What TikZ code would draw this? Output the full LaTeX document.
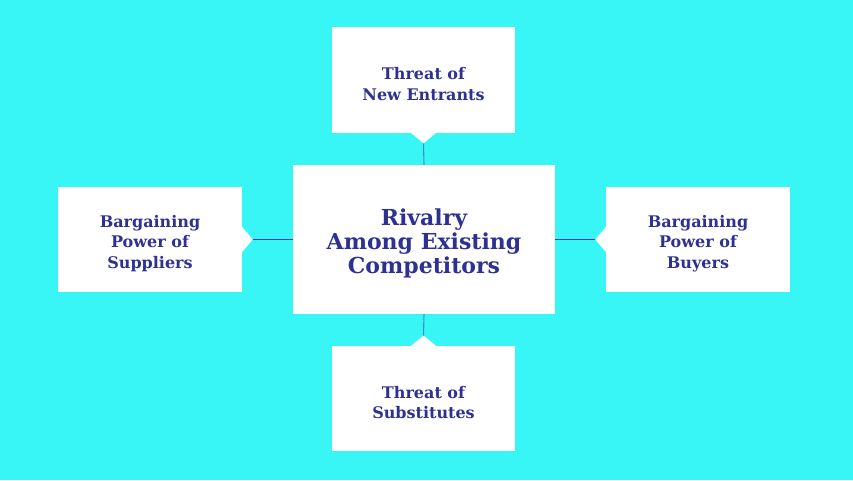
\documentclass[tikz,border=0pt]{standalone}
\usepackage{fontspec}
\setmainfont{DejaVu Serif}
\definecolor{bgcyan}{HTML}{38F6F6}
\definecolor{navy}{HTML}{2E3192}
\definecolor{vline}{HTML}{3297C8}
\definecolor{hline}{HTML}{3232B4}
\begin{document}
\begin{tikzpicture}[x=1pt,y=-1pt,
  box/.style={fill=white, draw=none, inner sep=0pt, align=center, text=navy,
    font=\bfseries\fontsize{16}{20.5}\selectfont},
  bigbox/.style={box, font=\bfseries\fontsize{22}{24}\selectfont}]
\fill[bgcyan] (0,0) rectangle (853,480);
\useasboundingbox (0,0) rectangle (853,480);

% center
\node[bigbox, text height=72.5pt, minimum width=262pt, minimum height=149pt] (c) at (424,239.5) {Rivalry\\Among Existing\\Competitors};

% top
\node[box, text height=40.5pt, minimum width=183pt, minimum height=105.5pt] (t) at (423.5,80) {Threat of\\New Entrants};
\coordinate (ttip) at (423.5,143.3);
\fill[white] ([xshift=-12.5pt]t.south) -- (ttip) -- ([xshift=12.5pt]t.south) -- cycle;

% bottom
\node[box, text height=40.5pt, minimum width=183pt, minimum height=105pt] (b) at (423.5,398.5) {Threat of\\Substitutes};
\coordinate (btip) at (423.5,335.5);
\fill[white] ([xshift=-12.5pt]b.north) -- (btip) -- ([xshift=12.5pt]b.north) -- cycle;

% left
\node[box, text height=61pt, minimum width=184pt, minimum height=105pt] (l) at (150,239.5) {Bargaining\\Power of\\Suppliers};
\coordinate (ltip) at (252.7,239.5);
\fill[white] ([yshift=-12.5pt]l.east) -- (ltip) -- ([yshift=12.5pt]l.east) -- cycle;

% right
\node[box, text height=61pt, minimum width=184pt, minimum height=105pt] (r) at (698,239.5) {Bargaining\\Power of\\Buyers};
\coordinate (rtip) at (595.3,239.5);
\fill[white] ([yshift=-12.5pt]r.west) -- (rtip) -- ([yshift=12.5pt]r.west) -- cycle;

% connectors
\draw[vline, line width=1.1pt] (ttip) -- (c.north);
\draw[vline, line width=1.1pt] (btip) -- (c.south);
\draw[hline, line width=0.9pt] (ltip) -- (c.west);
\draw[hline, line width=0.9pt] (rtip) -- (c.east);
\end{tikzpicture}
\end{document}
